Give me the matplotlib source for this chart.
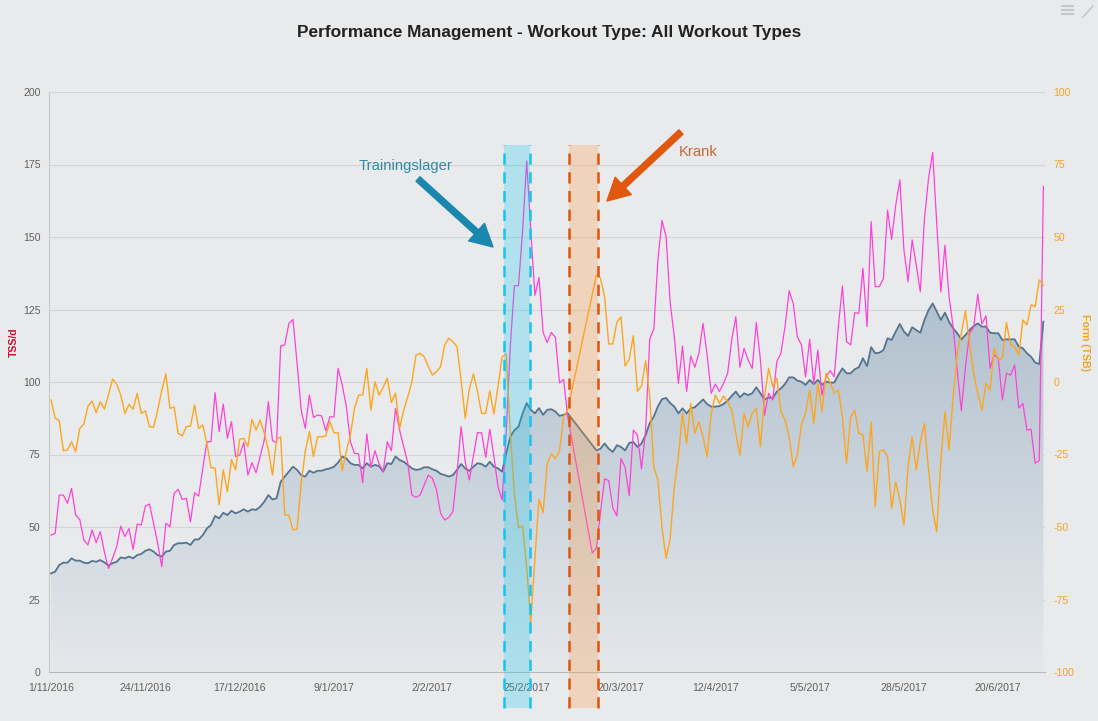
import matplotlib
matplotlib.use("Agg")
import matplotlib.pyplot as plt
import matplotlib.dates as mdates
import numpy as np
import pandas as pd
from matplotlib.patches import Rectangle, FancyArrowPatch, Polygon
from matplotlib.lines import Line2D

# ---------------- data ----------------
start_date = "2016-11-01"
end_date = "2017-07-01"
gap_days = ("2017-03-08", "2017-03-12")   # no data recorded (sick)

title = "Performance Management - Workout Type: All Workout Types"
tick_dates = ["2016-11-01", "2016-11-24", "2016-12-17", "2017-01-09", "2017-02-02",
              "2017-02-25", "2017-03-20", "2017-04-12", "2017-05-05", "2017-05-28",
              "2017-06-20"]
left_ticks = [0, 25, 50, 75, 100, 125, 150, 175, 200]
right_ticks = [-100, -75, -50, -25, 0, 25, 50, 75, 100]

band_camp = ("2017-02-19 12:00", "2017-02-25 19:00")
band_sick = ("2017-03-07 05:00", "2017-03-14 07:00")

# Fatigue (ATL), TSS/d
atl = [47.2, 47.8, 61.0, 61.0, 58.2, 63.3, 54.1, 52.6, 45.5, 43.8,
       49.0, 44.6, 48.4, 41.5, 35.7, 39.2, 43.2, 50.3, 46.7, 49.5,
       42.3, 51.0, 50.7, 57.2, 57.9, 51.3, 44.4, 36.3, 51.3, 50.1,
       61.6, 63.0, 59.5, 59.9, 51.8, 61.8, 60.7, 70.2, 79.4, 79.4,
       96.3,
       82.9, 92.4, 80.6, 86.3, 74.3, 74.8, 79.1, 67.9, 72.2, 68.7,
       74.3, 80.0, 93.2, 79.8, 79.1, 112.4, 112.8, 120.2, 121.6, 106.4,
       90.3, 84.0, 95.5, 87.8, 88.6, 88.3, 83.2, 88.0, 88.0, 104.7,
       99.0, 91.7, 79.4, 75.4, 75.2, 65.3, 82.1, 70.6, 76.3, 71.7,
       69.1, 79.4, 76.3, 90.9, 83.4, 77.7, 72.0, 61.0, 60.2, 61.0,
       64.5, 67.9, 66.8, 62.8, 54.7, 52.4, 53.3, 55.3, 68.5, 84.6,
       72.5, 66.2, 74.5, 82.5, 82.5, 74.0, 83.7, 74.3, 63.9, 59.3,
       82.3, 112.5, 133.2, 133.2, 152.0, 176.2, 152.0, 129.9, 136.0, 117.1,
       113.6, 117.1, 115.4, 99.7, 100.9, 88.1,
       41.0, 42.8, 55.0, 66.6, 66.0, 56.7, 53.8, 73.6, 70.6, 60.8,
       83.4, 81.7, 70.0, 83.4, 114.8, 118.3, 142.1, 155.7,
       150.1, 127.1, 115.6, 99.5, 112.4, 96.7, 109.0, 105.1, 109.9, 120.2,
       109.3, 96.1, 99.3, 96.7, 99.5, 103.0, 114.5, 122.5, 105.1, 111.6,
       107.6, 104.7, 120.5, 107.6, 88.6, 96.1, 93.8, 107.0, 109.9, 119.1,
       131.5, 127.1, 115.6, 112.8, 101.8, 114.7, 99.5, 111.0, 95.5, 101.8,
       103.9, 101.8, 119.1, 133.1, 113.9, 112.8, 123.9, 123.7,
       139.2, 119.1, 155.3, 132.9, 132.9, 135.7, 159.3, 149.2, 161.0, 169.7,
       145.5, 134.6, 149.0, 140.3, 131.1, 156.4, 170.2, 179.1, 154.7, 131.1,
       147.2, 129.4, 119.1, 104.1, 90.1, 105.3, 116.8, 118.9, 130.3, 120.0,
       122.8, 104.7, 109.3, 108.2, 93.8, 103.0, 102.4, 105.9, 91.0, 92.6,
       83.4, 83.7, 72.0, 72.9, 167.4]

# Form (TSB)
tsb = [-6.2, -12.5, -13.3, -23.7, -23.4, -20.6, -24.0, -16.0, -14.5, -8.3,
       -6.6, -10.6, -6.8, -9.4, -4.5, 1.0, -0.7, -4.5, -10.8, -7.7,
       -9.4, -3.9, -10.8, -10.0, -15.4, -15.6, -9.7, -2.8, 2.8, -9.1,
       -8.6, -17.7, -18.6, -15.4, -15.2, -7.9, -16.0, -14.8, -21.1, -29.6,
       -29.6,
       -42.4, -30.3, -37.8, -26.7, -30.3, -19.8, -19.4, -22.3, -12.9, -16.6,
       -13.1, -17.7, -23.4, -32.1, -19.8, -18.9, -45.9, -45.9, -51.0, -50.8,
       -34.9, -24.0, -17.1, -25.7, -18.9, -18.9, -18.6, -13.7, -17.5, -17.5,
       -30.6, -24.0, -18.3, -9.1, -4.5, -4.5, 4.7, -9.7, 0.1, -4.5,
       -1.8, 1.3, -7.1, -3.9, -16.0, -9.7, -5.1, 0.1, 9.3, 9.9,
       8.7, 5.3, 2.4, 3.6, 5.3, 12.8, 15.1, 13.9, 12.2, 0.7,
       -12.5, -2.5, 2.8, -3.3, -10.8, -10.8, -3.0, -11.0, -1.6, 8.7,
       9.7, -17.7, -38.6, -50.3, -49.7, -64.2, -82.8, -60.8, -40.4, -45.1,
       -28.2, -24.7, -26.5, -23.6, -12.0, -9.6,
       None,
       36.9, 35.8, 29.4, 13.1, 13.1, 20.7, 22.4, 5.5, 7.8, 16.0,
       -3.2, -1.4, 7.3, -4.9, -29.3, -34.0, -50.3, -60.8, -53.8,
       -36.1, -25.7, -10.8, -21.1, -7.4, -17.7, -13.7, -18.9, -25.7, -10.8,
       -4.5, -7.4, -4.8, -6.8, -9.7, -17.7, -25.2, -10.8, -15.4, -10.8,
       -9.1, -22.3, -5.1, 4.7, -1.6, 1.3, -10.2, -13.1, -18.9, -29.2,
       -25.2, -14.8, -10.8, -2.8, -14.3, -0.5, -10.2, 3.0, -0.2, -3.7,
       -2.8, -12.0, -28.0, -12.0, -9.7, -17.7,
       -18.3, -30.9, -13.7, -43.0, -24.0, -23.4, -25.7, -43.6, -34.4, -40.7,
       -49.3, -29.2, -18.9, -30.3, -20.6, -14.3, -30.3, -44.1, -51.6, -26.9,
       -10.2, -23.4, -5.1, 9.9, 16.8, 24.6, 13.3, 3.0, -3.9, -9.7,
       -0.5, -2.8, 11.6, 7.6, 8.2, 20.5, 12.8, 12.2, 9.3, 21.4,
       19.7, 26.6, 26.0, 35.2, 33.4]

# Fitness (CTL), TSS/d
ctl = [34.0, 34.6, 36.9, 37.7, 37.7, 39.2, 38.4, 38.4, 37.7, 37.5,
       38.3, 38.0, 38.6, 37.8, 36.7, 37.5, 38.0, 39.5, 39.2, 39.8,
       39.2, 40.3, 40.7, 41.8, 42.3, 41.5, 40.3, 39.8, 41.5, 41.8,
       43.8, 44.4, 44.4, 44.6, 43.8, 45.7, 45.7, 47.2, 49.5, 50.7,
       53.8,
       53.0, 54.9, 54.1, 55.6, 54.7, 55.3, 56.1, 55.3, 56.1, 55.9,
       57.0, 58.7, 61.0, 59.5, 59.9, 65.6, 67.4, 69.1, 70.8, 69.7,
       67.9, 67.4, 69.4, 68.7, 69.4, 69.4, 69.9, 70.2, 70.8, 72.2,
       74.3, 73.7, 72.0, 71.4, 71.4, 70.2, 72.0, 70.8, 71.4, 71.0,
       69.1, 72.0, 71.7, 74.3, 73.1, 72.5, 71.4, 70.2, 69.7, 69.9,
       70.6, 70.6, 69.9, 69.4, 68.3, 67.9, 67.4, 67.9, 69.7, 71.7,
       70.2, 69.4, 70.8, 72.0, 71.7, 70.8, 72.5, 70.8, 70.2, 69.1,
       75.3, 81.1, 83.4, 84.6, 89.2, 92.7, 90.4, 89.2, 91.0, 88.7,
       90.4, 90.6, 89.8, 88.3, 88.7, 89.2,
       None,
       76.4, 77.0, 78.8, 77.0, 75.9, 78.2, 77.6, 76.4, 79.0, 79.3,
       77.6, 78.8, 81.7, 85.8, 88.1, 91.6, 94.1, 94.5, 92.7,
       91.5, 89.2, 90.9, 89.2, 90.9, 91.3, 92.6, 94.0, 92.4, 91.5,
       91.5, 91.7, 92.4, 93.6, 95.2, 96.7, 94.7, 96.1, 95.5, 96.1,
       98.2, 96.1, 94.0, 94.7, 94.4, 96.7, 97.8, 99.3, 101.6, 101.6,
       100.5, 100.1, 99.0, 100.7, 99.3, 100.7, 99.0, 100.1, 99.8, 99.8,
       102.4, 104.7, 103.0, 103.0, 104.4, 105.1,
       108.2, 105.5, 112.0, 109.9, 110.1, 111.0, 115.1, 114.5, 117.4, 120.0,
       117.4, 115.9, 118.9, 117.9, 117.0, 121.4, 124.8, 127.1, 124.3, 121.4,
       123.9, 120.8, 118.5, 116.8, 114.7, 116.2, 117.9, 119.3, 120.2, 119.1,
       119.1, 117.0, 116.8, 116.8, 114.5, 114.7, 114.7, 114.7, 112.2, 111.6,
       109.9, 108.7, 106.7, 106.2, 120.8]

# ---------------- build ----------------
all_days = pd.date_range(start_date, end_date, freq="D")
dates = all_days[(all_days < pd.Timestamp(gap_days[0])) | (all_days > pd.Timestamp(gap_days[1]))]
df = pd.DataFrame({"ctl": ctl, "atl": atl, "tsb": tsb}, index=dates, dtype=float)

BG = "#e9eaeb"
FONT = "Liberation Sans"
plt.rcParams["font.family"] = [FONT, "DejaVu Sans"]
plt.rcParams["axes.unicode_minus"] = False

W, H = 1098, 721
fig = plt.figure(figsize=(W / 100, H / 100), dpi=100, facecolor=BG)

def fx(px):
    return px / W

def fy(py):
    return 1 - py / H

ax = fig.add_axes([fx(49), fy(672), fx(1045) - fx(49), fy(92) - fy(672)])
ax.set_facecolor(BG)
ax2 = ax.twinx()

t0 = pd.Timestamp(start_date)
xmin = t0 - pd.Timedelta(hours=12)
xmax = t0 + pd.Timedelta(days=242.4)

# CTL area with vertical gradient
c = df["ctl"].dropna()
xc = mdates.date2num(c.index.to_pydatetime())
verts = [(xc[0], 0)] + list(zip(xc, c.values)) + [(xc[-1], 0)]
clip = Polygon(verts, closed=True, facecolor="none", edgecolor="none", transform=ax.transData)
ax.add_patch(clip)
top_c = np.array([176, 192, 206]) / 255.0
bot_c = np.array([229, 232, 235]) / 255.0
tgrad = np.linspace(0, 1, 256)[:, None]
img = bot_c[None, None, :] * (1 - tgrad[:, :, None]) + top_c[None, None, :] * tgrad[:, :, None]
img = np.repeat(img, 2, axis=1)
im = ax.imshow(img, extent=[xc[0], xc[-1], 0, 130], origin="lower", aspect="auto",
               zorder=1, interpolation="bilinear")
im.set_clip_path(clip)
ax.plot(c.index, c.values, color="#54748f", lw=1.3, zorder=3)

a = df["atl"].dropna()
ax.plot(a.index, a.values, color="#ff42d6", lw=0.9, zorder=4)

s = df["tsb"].dropna()
ax2.plot(s.index, s.values, color="#fca61f", lw=1.0, zorder=4)

ax.set_xlim(xmin, xmax)
ax.set_ylim(0, 200)
ax2.set_ylim(-100, 100)

ax.set_yticks(left_ticks)
ax2.set_yticks(right_ticks)
ax.grid(axis="y", color="#d3d4d5", lw=0.8)
ax.set_axisbelow(True)
ax.xaxis.grid(False)

tk = [pd.Timestamp(d) for d in tick_dates]
ax.set_xticks(tk)
ax.set_xticklabels([f"{d.day}/{d.month}/{d.year}" for d in tk])

for sp in ["top", "right"]:
    ax.spines[sp].set_visible(False)
    ax2.spines[sp].set_visible(False)
ax2.spines["left"].set_visible(False)
ax2.spines["bottom"].set_visible(False)
ax.spines["left"].set_color("#c8c8c8")
ax.spines["bottom"].set_color("#b8b8b8")
ax.spines["left"].set_linewidth(0.8)
ax.spines["bottom"].set_linewidth(0.8)

ax.tick_params(axis="x", length=0, pad=8, labelsize=7.6, labelcolor="#606060")
ax.tick_params(axis="y", length=0, pad=6, labelsize=7.6, labelcolor="#606060")
ax2.tick_params(axis="y", length=0, pad=6, labelsize=7.6, labelcolor="#f5a31f")

fig.text(fx(14), fy(342), "TSS/d", rotation=90, ha="center", va="center",
         fontsize=7.6, weight="bold", color="#c8102e")
fig.text(fx(1085), fy(343), "Form (TSB)", rotation=270, ha="center", va="center",
         fontsize=7.6, weight="bold", color="#f5a31f")

fig.text(fx(549), fy(32), title, ha="center", va="center", fontsize=12.4,
         weight="bold", color="#222222")

# bands (drawn on top, extending below the plot)
trans = ax2.get_xaxis_transform()
ytop = (672 - 145) / 580.0
ybot = (672 - 708) / 580.0
for (b0, b1), fc, lc in [(band_camp, (0.0, 0.78, 0.94, 0.24), "#19c3ee"),
                         (band_sick, (1.0, 0.60, 0.25, 0.28), "#e0530c")]:
    x0 = mdates.date2num(pd.Timestamp(b0))
    x1 = mdates.date2num(pd.Timestamp(b1))
    ax2.add_patch(Rectangle((x0, ybot), x1 - x0, ytop - ybot, transform=trans,
                            facecolor=fc, edgecolor="none", clip_on=False, zorder=10))
    for xv in (x0, x1):
        ax2.add_line(Line2D([xv, xv], [ybot, ytop], transform=trans, color=lc, lw=1.8,
                            dashes=(4.5, 3), clip_on=False, zorder=11))

# annotations
fig.text(fx(406), fy(166), "Trainingslager", ha="center", va="center",
         fontsize=10.6, color="#2f8aa6")
fig.text(fx(698), fy(152), "Krank", ha="center", va="center",
         fontsize=10.6, color="#c7663a")
arr1 = FancyArrowPatch((fx(418), fy(179)), (fx(493), fy(247)), transform=fig.transFigure,
                       arrowstyle="simple,head_length=16,head_width=17,tail_width=4.3",
                       color="#1a88ae", shrinkA=0, shrinkB=0, zorder=12)
arr2 = FancyArrowPatch((fx(681), fy(132)), (fx(607), fy(201)), transform=fig.transFigure,
                       arrowstyle="simple,head_length=16,head_width=17,tail_width=4.3",
                       color="#e0570d", shrinkA=0, shrinkB=0, zorder=12)
fig.add_artist(arr1)
fig.add_artist(arr2)

# menu / expand icons (top right)
for yy in (6, 10, 14):
    fig.add_artist(Line2D([fx(1062), fx(1073)], [fy(yy), fy(yy)], color="#c4c6c8", lw=1.5))
fig.add_artist(Line2D([fx(1083), fx(1093)], [fy(17), fy(6)], color="#c4c6c8", lw=1.2))

fig.savefig("out.png", dpi=100, facecolor=BG)
